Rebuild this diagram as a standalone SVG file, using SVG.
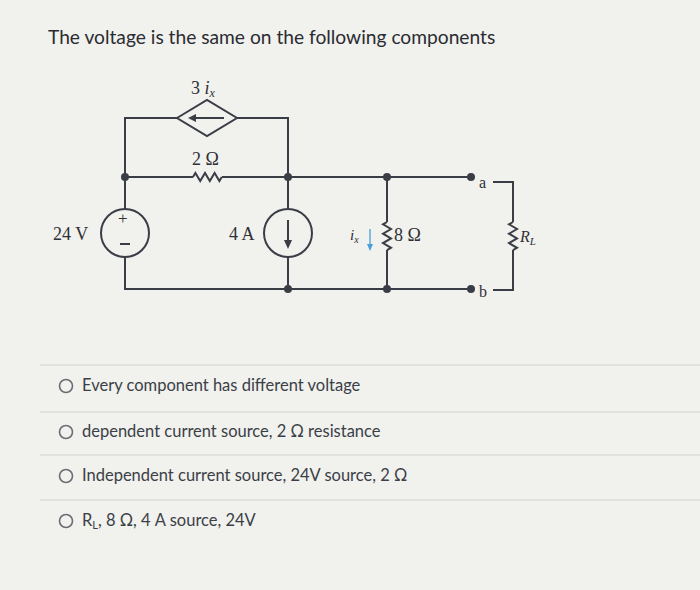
<svg xmlns="http://www.w3.org/2000/svg" width="700" height="590" viewBox="0 0 700 590">
<style>
.w{stroke:#3a3d45;stroke-width:2;fill:none}
.d{fill:#3a3d45}
.t{font-family:"Liberation Serif",serif;fill:#2e3036}
.q{font-family:Lato,"Liberation Sans",sans-serif;fill:#3b3f46;font-size:16.5px}
.rb{fill:none;stroke:#6a6d72;stroke-width:1.6}
.sep{stroke:#dcdcd8;stroke-width:1.5}
</style>
<rect width="700" height="590" fill="#f1f1ee"/>
<text x="48" y="44" font-family="Lato,'Liberation Sans',sans-serif" font-size="19.2" fill="#2a2c31">The voltage is the same on the following components</text>
<g id="connectors">
<path class="w" d="M125 177V118H177M237 118H288V177M125 177H193M222 177H471M125 177V209M125 257V289H471M288 177V209M288 257V289M387 177V222M387 250V289M493 182H513V222M513 250V290H493"/>
</g>
<g id="dep-source"><path class="w" d="M177 118L207 100L237 118L207 136Z"/><path class="w" d="M224 118H192"/><path class="d" d="M188 118L196 114V122Z"/><text class="t" x="191" y="94" font-size="18">3 <tspan font-style="italic">i</tspan><tspan font-style="italic" font-size="12" dy="3">x</tspan></text></g>
<g id="r2"><path class="w" stroke-width="1.6" d="M193 177l2.4 -4 4.8 8 4.8 -8 4.8 8 4.8 -8 4.8 8 2.4 -4"/><text class="t" x="192" y="165" font-size="18">2 Ω</text></g>
<g id="v24"><circle class="w" cx="125" cy="233" r="24"/><text class="t" x="118" y="224" font-size="17">+</text><path class="w" stroke-width="1.5" d="M120 244H130"/><text class="t" x="53" y="240" font-size="18">24 V</text></g>
<g id="i4"><circle class="w" cx="288" cy="233" r="24"/><path class="w" d="M288 220V243"/><path class="d" d="M288 249L284 240H292Z"/><text class="t" x="229" y="240" font-size="18">4 A</text></g>
<g id="r8"><path class="w" stroke-width="1.6" d="M387 222l-4 2.3 8 4.7 -8 4.7 8 4.7 -8 4.7 8 4.7 -4 2.3"/><text class="t" x="394" y="241" font-size="18">8 Ω</text><text class="t" x="350" y="240" font-size="15" font-style="italic" fill="#4a9fd8">i<tspan font-size="10" dy="3">x</tspan></text><path stroke="#4a9fd8" stroke-width="1.3" d="M370 229V246"/><path fill="#4a9fd8" d="M370 251L367 244H373Z"/></g>
<g id="rl"><path class="w" stroke-width="1.6" d="M513 222l-4 2.3 8 4.7 -8 4.7 8 4.7 -8 4.7 8 4.7 -4 2.3"/><text class="t" x="520" y="242" font-size="16" font-style="italic">R<tspan font-size="11" dy="3">L</tspan></text></g>
<g id="nodes"><circle class="d" cx="125" cy="177" r="4"/><circle class="d" cx="288" cy="177" r="4"/><circle class="d" cx="387" cy="177" r="4"/><circle class="d" cx="288" cy="289" r="4"/><circle class="d" cx="387" cy="289" r="4"/><circle class="d" cx="471" cy="177" r="4"/><circle class="d" cx="471" cy="289" r="4"/><text class="t" x="479" y="188" font-size="16">a</text><text class="t" x="479" y="297" font-size="16">b</text></g>
<g id="options">
<path class="sep" d="M40 365H700M40 412H700M40 455H700M40 500H700"/>
<circle class="rb" cx="66" cy="386" r="6.5"/><text class="q" x="82" y="391">Every component has different voltage</text>
<circle class="rb" cx="66" cy="432" r="6.5"/><text class="q" x="82" y="437">dependent current source,  2 Ω resistance</text>
<circle class="rb" cx="66" cy="476" r="6.5"/><text class="q" x="82" y="481">Independent current source, 24V source, 2 Ω</text>
<circle class="rb" cx="66" cy="521" r="6.5"/><text class="q" x="82" y="526">R<tspan font-size="11" dy="3">L</tspan><tspan dy="-3">, 8 Ω, 4 A source, 24V</tspan></text>
</g>
</svg>
